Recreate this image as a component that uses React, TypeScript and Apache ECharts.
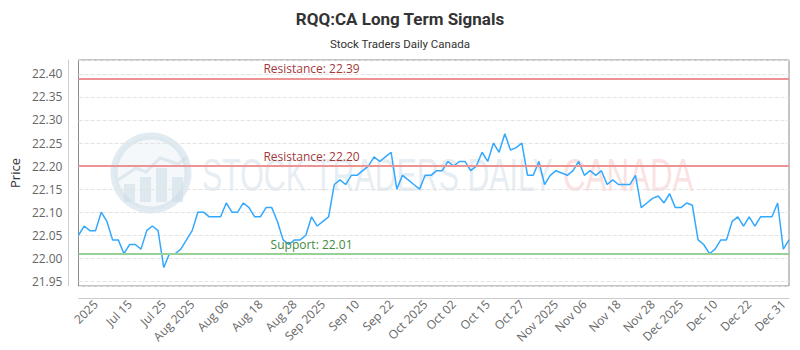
import { useEffect, useRef } from "react";
import * as echarts from "echarts";

// Daily closes, Jul 2 – Dec 31 2025 (TSX trading days)
const PRICES = [
  22.05, 22.07, 22.06, 22.06, 22.1, 22.08, 22.04, 22.04, 22.01, 22.03,
  22.03, 22.02, 22.06, 22.07, 22.06, 21.98, 22.01, 22.01, 22.02, 22.04,
  22.06, 22.1, 22.1, 22.09, 22.09, 22.09, 22.12, 22.1, 22.1, 22.12,
  22.11, 22.09, 22.09, 22.11, 22.11, 22.08, 22.04, 22.03, 22.04, 22.04,
  22.05, 22.09, 22.07, 22.08, 22.09, 22.16, 22.17, 22.16, 22.18, 22.18,
  22.19, 22.2, 22.22, 22.21, 22.22, 22.23, 22.15, 22.18, 22.17, 22.16,
  22.15, 22.18, 22.18, 22.19, 22.19, 22.21, 22.2, 22.21, 22.21, 22.19,
  22.2, 22.23, 22.21, 22.25, 22.23, 22.27, 22.235, 22.24, 22.25, 22.18,
  22.18, 22.21, 22.16, 22.18, 22.19, 22.185, 22.18, 22.19, 22.21, 22.18,
  22.19, 22.18, 22.19, 22.16, 22.17, 22.16, 22.16, 22.16, 22.18, 22.11,
  22.12, 22.13, 22.135, 22.12, 22.14, 22.11, 22.11, 22.12, 22.115, 22.04,
  22.03, 22.01, 22.02, 22.04, 22.04, 22.08, 22.09, 22.07, 22.09, 22.07,
  22.09, 22.09, 22.09, 22.12, 22.02, 22.04,
];

const START_DATE = "2025-07-02";
const END_DATE = "2025-12-31";
const HOLIDAYS = ["2025-08-04", "2025-09-01", "2025-10-13", "2025-12-25", "2025-12-26"];

// Axis labels and the trading-day slot each one sits on
const TICK_LABELS = [
  "2025", "Jul 15", "Jul 25", "Aug 2025", "Aug 06", "Aug 18", "Aug 28",
  "Sep 2025", "Sep 10", "Sep 22", "Oct 2025", "Oct 02", "Oct 15", "Oct 27",
  "Nov 2025", "Nov 06", "Nov 18", "Nov 28", "Dec 2025", "Dec 10", "Dec 22", "Dec 31",
];
const TICK_SLOTS = [3, 9, 15, 20, 26, 32, 38, 43, 49, 55, 61, 66, 72, 78, 84, 89, 95, 101, 106, 112, 118, 124];

const RESISTANCE_LEVELS = [22.39, 22.2];
const SUPPORT_LEVELS = [22.01];
const LEVEL_LABEL_SLOT = 41;

const Y_MIN = 21.94;
const Y_MAX = 22.43;

function tradingDays(start: string, end: string, holidays: string[]): string[] {
  const out: string[] = [];
  const d = new Date(start + "T00:00:00Z");
  const last = new Date(end + "T00:00:00Z");
  while (d <= last) {
    const iso = d.toISOString().slice(0, 10);
    const wd = d.getUTCDay();
    if (wd !== 0 && wd !== 6 && !holidays.includes(iso)) out.push(iso);
    d.setUTCDate(d.getUTCDate() + 1);
  }
  return out;
}

const DATES = tradingDays(START_DATE, END_DATE, HOLIDAYS);

const FONT = "'Open Sans', 'DejaVu Sans', sans-serif";
const HEAD = "Roboto, 'Liberation Sans', sans-serif";
const MARK = "'Liberation Sans', Arial, sans-serif";

export default function App() {
  const ref = useRef<HTMLDivElement>(null);

  useEffect(() => {
    if (!ref.current) return;
    const chart = echarts.init(ref.current, undefined, { renderer: "svg" });

    const levelLines = [
      ...RESISTANCE_LEVELS.map((v) => ({ yAxis: v, lineStyle: { color: "#ec9393" } })),
      ...SUPPORT_LEVELS.map((v) => ({ yAxis: v, lineStyle: { color: "#98d198" } })),
    ];
    const levelLabels = [
      ...RESISTANCE_LEVELS.map((v) => ({
        coord: [LEVEL_LABEL_SLOT, v],
        value: v,
        label: { formatter: `Resistance: ${v.toFixed(2)}`, color: "#a33a3a" },
      })),
      ...SUPPORT_LEVELS.map((v) => ({
        coord: [LEVEL_LABEL_SLOT, v],
        value: v,
        label: { formatter: `Support: ${v.toFixed(2)}`, color: "#3f8a3f" },
      })),
    ];

    const wmBlue = "rgba(200, 218, 230, 0.55)";

    chart.setOption({
      animation: false,
      backgroundColor: "#ffffff",
      title: [
        {
          text: "RQQ:CA Long Term Signals",
          left: "center",
          top: 5,
          textStyle: { fontFamily: HEAD, fontSize: 17, fontWeight: "bold", color: "#333" },
        },
        {
          text: "Stock Traders Daily Canada",
          left: "center",
          top: 33,
          textStyle: { fontFamily: HEAD, fontSize: 11.5, fontWeight: "normal", color: "#333" },
        },
      ],
      graphic: [
        {
          type: "group",
          silent: true,
          z: 0,
          children: [
            {
              type: "circle",
              shape: { cx: 151, cy: 173, r: 37 },
              style: { fill: "rgba(235, 242, 247, 0.5)", stroke: wmBlue, lineWidth: 7 },
            },
            { type: "rect", shape: { x: 124, y: 184, width: 11, height: 18 }, style: { fill: wmBlue } },
            { type: "rect", shape: { x: 140, y: 177, width: 11, height: 25 }, style: { fill: wmBlue } },
            { type: "rect", shape: { x: 156, y: 168, width: 11, height: 34 }, style: { fill: wmBlue } },
            { type: "rect", shape: { x: 172, y: 177, width: 11, height: 25 }, style: { fill: wmBlue } },
            {
              type: "polyline",
              shape: { points: [[118, 180], [136, 168], [146, 172], [160, 158], [178, 164], [186, 158]] },
              style: { stroke: wmBlue, lineWidth: 3, fill: "none" },
            },
            {
              type: "text",
              x: 202,
              y: 175,
              scaleX: 0.66,
              style: {
                text: "STOCK TRADERS DAILY",
                font: `46px ${MARK}`,
                fill: "rgba(205, 220, 232, 0.5)",
                verticalAlign: "middle",
              },
            },
            {
              type: "text",
              x: 563,
              y: 175,
              scaleX: 0.68,
              style: {
                text: "CANADA",
                font: `46px ${MARK}`,
                fill: "rgba(245, 190, 190, 0.45)",
                verticalAlign: "middle",
              },
            },
          ],
        },
      ],
      grid: {
        left: 78,
        right: 11,
        top: 60,
        bottom: 64,
        show: true,
        borderColor: "#8a8a8a",
        borderWidth: 1,
        backgroundColor: "transparent",
      },
      xAxis: {
        type: "category",
        data: DATES,
        boundaryGap: false,
        offset: 12,
        axisLine: { show: true, lineStyle: { color: "#cccccc" } },
        axisTick: { show: false },
        splitLine: { show: false },
        axisLabel: {
          rotate: 45,
          fontFamily: FONT,
          fontSize: 12,
          color: "#666",
          margin: 4,
          interval: (i: number) => TICK_SLOTS.includes(i),
          formatter: (_v: string, i: number) => {
            const k = TICK_SLOTS.indexOf(i);
            return k >= 0 ? TICK_LABELS[k] : "";
          },
        },
      },
      yAxis: {
        type: "value",
        min: Y_MIN,
        max: Y_MAX,
        minInterval: 0.05,
        maxInterval: 0.05,
        offset: 10,
        name: "Price",
        nameLocation: "middle",
        nameGap: 44,
        nameTextStyle: { fontFamily: FONT, fontSize: 13, color: "#333" },
        axisLine: { show: true, lineStyle: { color: "#cccccc" } },
        axisTick: { show: false },
        axisLabel: {
          fontFamily: FONT,
          fontSize: 12,
          color: "#666",
          margin: 6,
          showMinLabel: false,
          showMaxLabel: false,
          formatter: (v: number) => v.toFixed(2),
        },
        splitLine: { show: true, lineStyle: { type: "dashed", color: "#e3e3e3" } },
      },
      series: [
        {
          type: "line",
          data: PRICES,
          symbol: "none",
          z: 3,
          lineStyle: { color: "#33a8ff", width: 1.5 },
          itemStyle: { color: "#33a8ff" },
          markLine: {
            silent: true,
            symbol: "none",
            label: { show: false },
            lineStyle: { type: "solid", width: 2 },
            data: levelLines,
          },
          markPoint: {
            silent: true,
            symbol: "circle",
            symbolSize: 1,
            itemStyle: { color: "rgba(0,0,0,0)" },
            label: {
              show: true,
              position: "top",
              distance: 3,
              fontFamily: FONT,
              fontSize: 12,
            },
            data: levelLabels,
          },
        },
      ],
    });

    return () => chart.dispose();
  }, []);

  return (
    <div
      ref={ref}
      style={{ position: "absolute", left: 0, top: 0, width: 800, height: 350 }}
    />
  );
}
